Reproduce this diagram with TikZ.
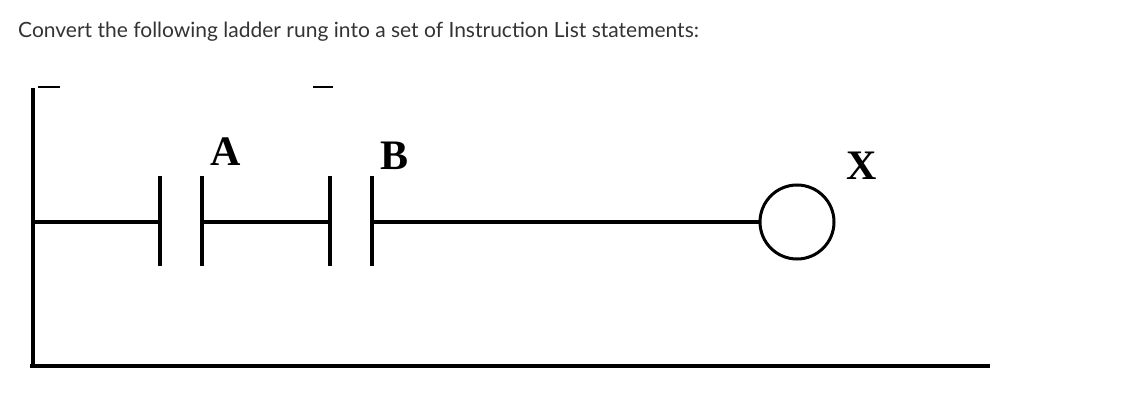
\documentclass[tikz,border=0pt]{standalone}
\usepackage{fontspec}
\newfontfamily\headfont{Lato}
\newfontfamily\labfont{Liberation Serif}
\begin{document}
\begin{tikzpicture}[x=1pt,y=-1pt,
  wire/.style={line width=3.4pt,black},
  lab/.style={font=\labfont\bfseries\fontsize{42}{42}\selectfont,inner sep=0pt}]
\useasboundingbox (0,0) rectangle (1135,420);
\node[anchor=west,inner sep=0pt,font=\headfont\fontsize{21}{24}\selectfont,text=black!80] (h) at (18,32) {Convert the following ladder rung into a set of Instruction List statements:};
\coordinate (railtop) at (33,88);
\coordinate (railbot) at (33,366);
\draw[wire] (railtop) -- (railbot);
\draw[line width=2.5pt] (38,87) -- (60,87);
\draw[line width=2.5pt] (313,87) -- (333,87);
\draw[line width=4pt] (30,366) -- (990,366);
\coordinate (r0) at (33,222);
\coordinate (a1) at (160,222);
\coordinate (a2) at (202,222);
\coordinate (b1) at (330,222);
\coordinate (b2) at (372,222);
\node[draw,circle,line width=3pt,minimum size=74pt,inner sep=0pt] (coil) at (797,222) {};
\draw[wire] (r0) -- (a1);
\draw[wire] (a2) -- (b1);
\draw[wire] (b2) -- (coil.west);
\foreach \c in {a1,a2,b1,b2} \draw[wire] ([yshift=-44pt]\c) -- ([yshift=46pt]\c);
\node[lab] (A) at (226,152) {A};
\node[lab] (B) at (395,156) {B};
\node[lab] (X) at (862,166) {X};
\end{tikzpicture}
\end{document}
